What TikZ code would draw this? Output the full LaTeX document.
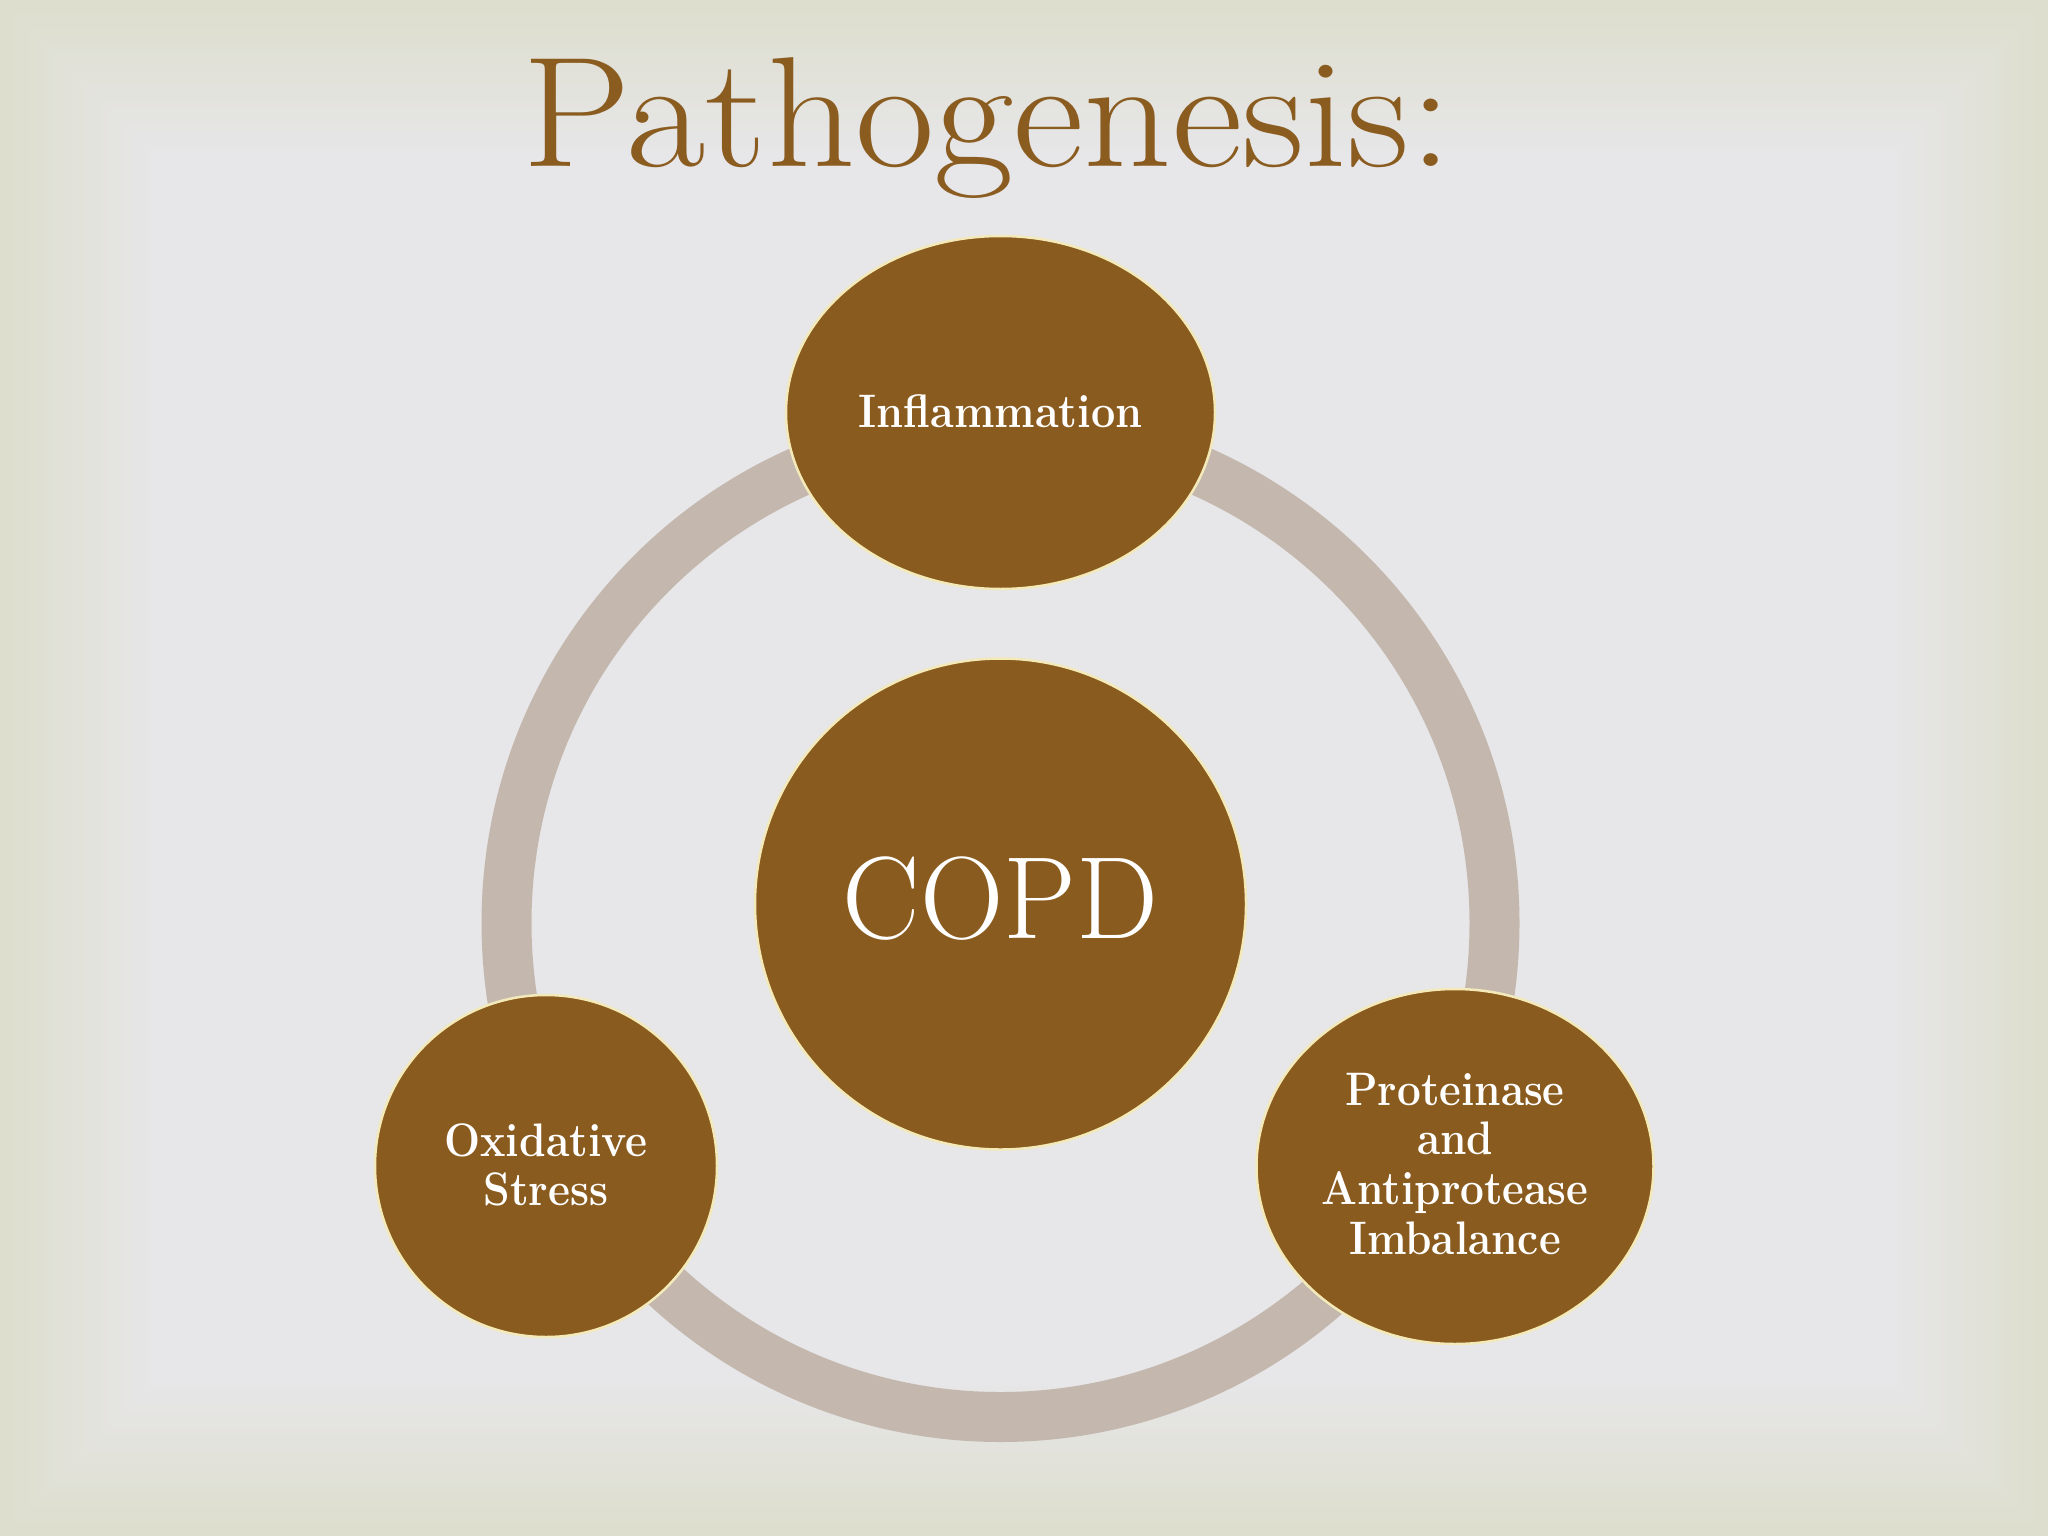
\documentclass[tikz,border=0pt]{standalone}
\usepackage{graphicx}
\usetikzlibrary{shapes.geometric}
\definecolor{edgec}{RGB}{221,222,205}
\definecolor{midc}{RGB}{231,230,232}
\definecolor{ringc}{RGB}{196,184,174}
\definecolor{nodebrown}{RGB}{138,91,30}
\definecolor{titlec}{RGB}{139,92,32}
\definecolor{rimc}{RGB}{243,233,185}
\begin{document}
\begin{tikzpicture}[x=1pt,y=-1pt,
  blob/.style={ellipse, fill=nodebrown, draw=rimc, line width=2.5pt, inner sep=0pt},
  lbl/.style={text=white, font=\fontsize{47}{50}\selectfont\bfseries, anchor=base, inner sep=0pt},
  bigtxt/.style={text=white, font=\fontsize{117}{120}\selectfont, anchor=base, inner sep=0pt},
  titletxt/.style={text=titlec, font=\fontsize{157}{160}\selectfont, anchor=base, inner sep=0pt}
]
\useasboundingbox (0,0) rectangle (2048,1536);
\fill[edgec] (0,0) rectangle (2048,1536);
\foreach \i in {1,...,25}{
  \pgfmathtruncatemacro{\p}{\i*4}
  \fill[midc!\p!edgec] (\i*6,\i*6) rectangle (2048-\i*6,1536-\i*6);
}
% ring
\draw[ringc, line width=50pt] (1000.5,923) circle[radius=494];
% title
\node[titletxt] (title) at (987.5,167) {\scalebox{1.1}[1]{Pathogenesis:}};
% nodes
\node[blob, minimum width=429pt, minimum height=353pt] (infl) at (1000.5,412.5) {};
\node[blob, minimum width=491pt, minimum height=491pt] (copd) at (1000.5,904) {};
\node[blob, minimum width=342pt, minimum height=342pt] (oxid) at (546,1166) {};
\node[blob, minimum width=397pt, minimum height=355pt] (prot) at (1455,1166.5) {};
% labels
\node[lbl] (inflT) at (1000.5,427) {\scalebox{0.92}[1]{Inflammation}};
\node[bigtxt] (copdT) at (1000.5,938) {\scalebox{0.99}[1]{COPD}};
\node[lbl] (oxidA) at (546,1156) {\scalebox{0.91}[1]{Oxidative}};
\node[lbl] (oxidB) at (546,1205.5) {\scalebox{0.91}[1]{Stress}};
\node[lbl] (protA) at (1455,1105) {\scalebox{0.9}[1]{Proteinase}};
\node[lbl] (protB) at (1455,1154.5) {\scalebox{0.9}[1]{and}};
\node[lbl] (protC) at (1455,1204) {\scalebox{0.9}[1]{Antiprotease}};
\node[lbl] (protD) at (1455,1254) {\scalebox{0.9}[1]{Imbalance}};
\end{tikzpicture}
\end{document}
